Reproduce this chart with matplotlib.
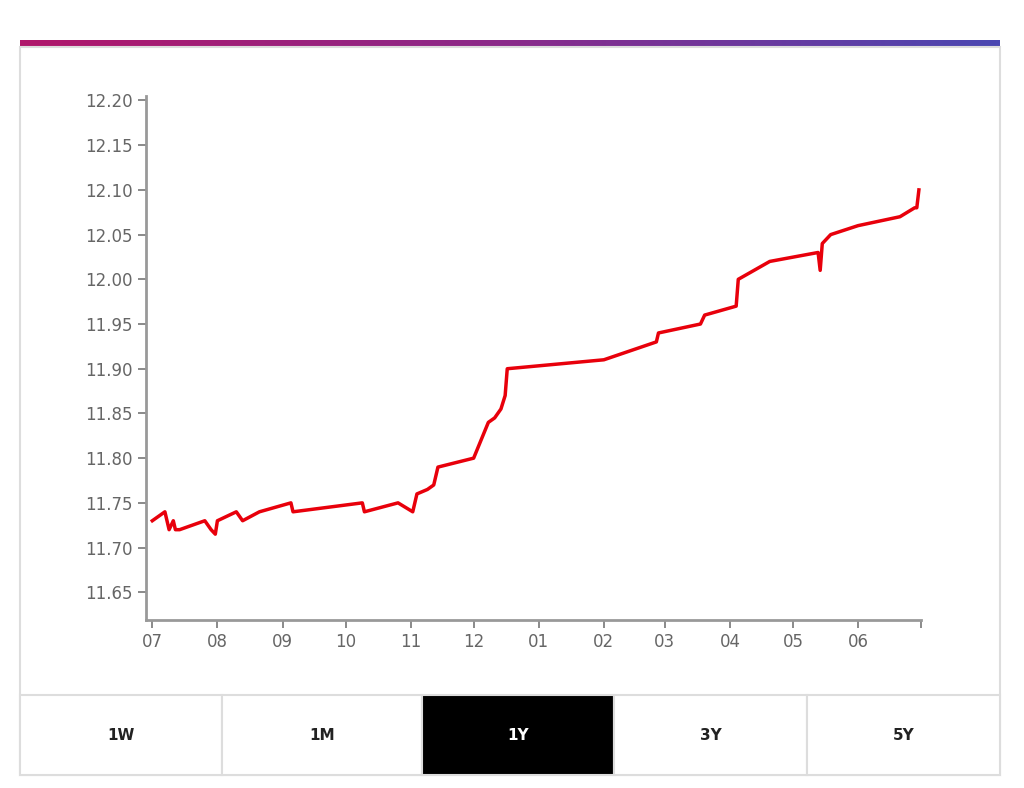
import matplotlib.pyplot as plt
import numpy as np
import pandas as pd
from matplotlib.patches import Rectangle
from matplotlib.colors import LinearSegmentedColormap

dates = ["2023-07-01", "2023-07-07", "2023-07-09", "2023-07-11", "2023-07-12", "2023-07-14",
         "2023-07-26", "2023-07-29", "2023-07-31", "2023-08-01", "2023-08-10", "2023-08-13",
         "2023-08-21", "2023-09-05", "2023-09-06", "2023-10-09", "2023-10-10", "2023-10-26",
         "2023-11-02", "2023-11-04", "2023-11-09", "2023-11-12", "2023-11-14", "2023-12-01",
         "2023-12-08", "2023-12-11", "2023-12-14", "2023-12-16", "2023-12-17", "2024-02-01",
         "2024-02-26", "2024-02-27", "2024-03-18", "2024-03-20", "2024-04-04", "2024-04-05",
         "2024-04-20", "2024-05-13", "2024-05-14", "2024-05-15", "2024-05-19", "2024-06-01",
         "2024-06-21", "2024-06-28", "2024-06-29", "2024-06-30"]
values = [11.73, 11.74, 11.72, 11.73, 11.72, 11.72,
          11.73, 11.72, 11.715, 11.73, 11.74, 11.73,
          11.74, 11.75, 11.74, 11.75, 11.74, 11.75,
          11.74, 11.76, 11.765, 11.77, 11.79, 11.80,
          11.84, 11.845, 11.855, 11.87, 11.90, 11.91,
          11.93, 11.94, 11.95, 11.96, 11.97, 12.00,
          12.02, 12.03, 12.01, 12.04, 12.05, 12.06,
          12.07, 12.08, 12.08, 12.10]
month_labels = ["07", "08", "09", "10", "11", "12", "01", "02", "03", "04", "05", "06"]
y_ticks = [11.65, 11.70, 11.75, 11.80, 11.85, 11.90, 11.95, 12.00, 12.05, 12.10, 12.15, 12.20]
buttons = ["1W", "1M", "1Y", "3Y", "5Y"]
active = "1Y"

W, H = 1024, 788
fig = plt.figure(figsize=(W / 100, H / 100), dpi=100)
fig.patch.set_facecolor("white")

# card background + gradient top bar
bg = fig.add_axes([0, 0, 1, 1])
bg.axis("off")
bg.add_patch(Rectangle((20, 47), 980, 728, facecolor="white", edgecolor="#dddddd", lw=1.5))
grad = np.linspace(0, 1, 256).reshape(1, -1)
cmap = LinearSegmentedColormap.from_list("g", ["#b0176b", "#8a2a8a", "#4b48b2"])
bg.imshow(grad, extent=(20, 1000, 48, 40), aspect="auto", cmap=cmap)

# buttons
edges = [20, 222, 422, 614, 807, 1000]
for i, lab in enumerate(buttons):
    x0, x1 = edges[i], edges[i + 1]
    on = lab == active
    bg.add_patch(Rectangle((x0, 695), x1 - x0, 80, facecolor="black" if on else "white",
                           edgecolor="#dddddd", lw=1.5))
    bg.text((x0 + x1) / 2, 736, lab, ha="center", va="center", fontsize=11,
            fontweight="bold", color="white" if on else "#222222")
bg.set_xlim(0, W)
bg.set_ylim(H, 0)

ax = fig.add_axes([146 / W, 1 - 620 / H, 775 / W, 524 / H])
x = pd.to_datetime(dates)
ax.plot(x, values, color="#e8000b", lw=2.5)
ax.set_xlim(pd.Timestamp("2023-06-28"), pd.Timestamp("2024-07-01"))
ax.set_ylim(11.619, 12.205)
ticks = pd.date_range("2023-07-01", periods=12, freq="MS")
ax.set_xticks(list(ticks) + [pd.Timestamp("2024-07-01")])
ax.set_xticklabels(month_labels + [""])
ax.set_yticks(y_ticks)
ax.set_yticklabels([f"{v:.2f}" for v in y_ticks])
ax.patch.set_alpha(0)
for s in ["top", "right"]:
    ax.spines[s].set_visible(False)
for s in ["left", "bottom"]:
    ax.spines[s].set_color("#999999")
    ax.spines[s].set_linewidth(2)
ax.tick_params(axis="both", colors="#777777", labelcolor="#666666", labelsize=12,
               length=6, width=1.2)

fig.savefig("out.png", dpi=100)
